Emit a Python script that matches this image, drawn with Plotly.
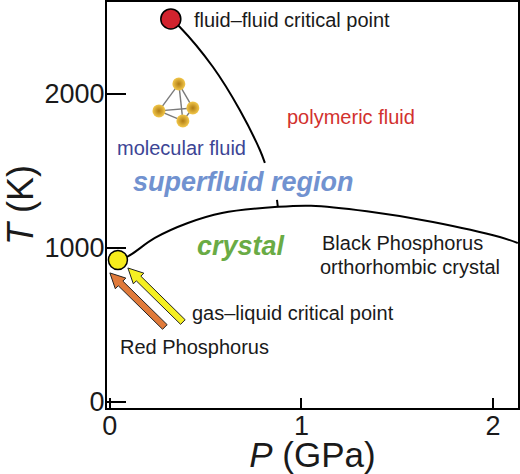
import math
import plotly.graph_objects as go

# axis setup (P in GPa, T in K)
x_range = [-0.015, 2.13]
y_range = [-39, 2597]
x_ticks = [0, 1, 2]
y_ticks = [0, 1000, 2000]

# melting line of black phosphorus (crystal boundary)
melt_P = [0.042, 0.094, 0.235, 0.407, 0.585, 0.877, 1.05, 1.341, 1.686, 2.035, 2.129]
melt_T = [922, 945, 1065, 1162, 1227, 1267, 1274, 1238, 1169, 1071, 1032]

# liquid-liquid transition line (broken where the label sits)
llt_P = [0.318, 0.365, 0.538, 0.678, 0.783, 0.809, None, 0.872, 0.877]
llt_T = [2487, 2435, 2175, 1896, 1636, 1552, None, 1312, 1265]

# critical points
ff_cp = (0.318, 2487)
gl_cp = (0.042, 922)

# P4 molecule sketch
mol_P = [0.360, 0.256, 0.433, 0.381]
mol_T = [2065, 1890, 1909, 1825]
mol_edges = [(0, 1), (0, 2), (0, 3), (1, 2), (1, 3), (2, 3)]

# arrows: (tail P, tail T, tip P, tip T)
arrow_red = (0.287, 487, 0.0, 838)
arrow_yel = (0.381, 519, 0.094, 870)

FONT = "Liberation Sans, Arial, sans-serif"
L_MARGIN, R_MARGIN, T_MARGIN, B_MARGIN = 107, 2, 2, 66
W, H = 520, 474
SX = (W - L_MARGIN - R_MARGIN) / (x_range[1] - x_range[0])  # px per GPa
SY = (H - T_MARGIN - B_MARGIN) / (y_range[1] - y_range[0])  # px per K


def block_arrow(a, shaft=6.5, head_w=15, head_l=15):
    # build an outlined block arrow in pixel space, return svg path in data coords
    u0, v0, u1, v1 = a[0] * SX, a[1] * SY, a[2] * SX, a[3] * SY
    dx, dy = u1 - u0, v1 - v0
    ln = math.hypot(dx, dy)
    ux, uy = dx / ln, dy / ln
    nx, ny = -uy, ux
    bx, by = u1 - ux * head_l, v1 - uy * head_l
    pts = [
        (u0 + nx * shaft / 2, v0 + ny * shaft / 2),
        (bx + nx * shaft / 2, by + ny * shaft / 2),
        (bx + nx * head_w / 2, by + ny * head_w / 2),
        (u1, v1),
        (bx - nx * head_w / 2, by - ny * head_w / 2),
        (bx - nx * shaft / 2, by - ny * shaft / 2),
        (u0 - nx * shaft / 2, v0 - ny * shaft / 2),
    ]
    return "M " + " L ".join(f"{u / SX:.4f},{v / SY:.2f}" for u, v in pts) + " Z"


fig = go.Figure()

fig.add_trace(go.Scatter(x=melt_P, y=melt_T, mode="lines", line_shape="spline",
                         line=dict(color="black", width=2), hoverinfo="skip"))
fig.add_trace(go.Scatter(x=llt_P, y=llt_T, mode="lines", line_shape="spline",
                         line=dict(color="black", width=2), hoverinfo="skip"))

# molecule edges then balls
for i, j in mol_edges:
    fig.add_trace(go.Scatter(x=[mol_P[i], mol_P[j]], y=[mol_T[i], mol_T[j]], mode="lines",
                             line=dict(color="#7a7a7a", width=1.4), hoverinfo="skip"))
fig.add_trace(go.Scatter(x=mol_P, y=mol_T, mode="markers",
                         marker=dict(size=13, color="#f3c84a",
                                     gradient=dict(type="radial", color="#b07c14"),
                                     line=dict(width=0)), hoverinfo="skip"))

fig.add_trace(go.Scatter(x=[ff_cp[0]], y=[ff_cp[1]], mode="markers",
                         marker=dict(size=20, color="#d2232e", line=dict(color="black", width=1.5)),
                         hoverinfo="skip"))
fig.add_trace(go.Scatter(x=[gl_cp[0]], y=[gl_cp[1]], mode="markers",
                         marker=dict(size=19, color="#f7ec1c", line=dict(color="black", width=1.5)),
                         hoverinfo="skip"))

fig.add_shape(type="path", path=block_arrow(arrow_red), fillcolor="#e07a3a",
              line=dict(color="#222", width=1), xref="x", yref="y")
fig.add_shape(type="path", path=block_arrow(arrow_yel), fillcolor="#f5ef22",
              line=dict(color="#222", width=1), xref="x", yref="y")

labels = [
    # text, P, T, anchor, color, size, bold-italic
    ("fluid\u2013fluid critical point", 0.428, 2481, "left", "#1a1a1a", 20, False),
    ("polymeric fluid", 1.258, 1851, "center", "#d2312e", 20, False),
    ("molecular fluid", 0.373, 1649, "center", "#3d4595", 20, False),
    ("superfluid region", 0.697, 1429, "center", "#7192d0", 27, True),
    ("crystal", 0.684, 1013, "center", "#6aab45", 27, True),
    ("Black Phosphorus", 1.529, 1032, "center", "#1a1a1a", 20, False),
    ("orthorhombic crystal", 1.566, 877, "center", "#1a1a1a", 20, False),
    ("gas\u2013liquid critical point", 0.418, 578, "left", "#1a1a1a", 20, False),
    ("Red Phosphorus", 0.042, 357, "left", "#1a1a1a", 20, False),
]
for txt, px, ty, anc, col, sz, bi in labels:
    fig.add_annotation(x=px, y=ty, text=f"<b><i>{txt}</i></b>" if bi else txt,
                       showarrow=False, xanchor=anc, yanchor="middle",
                       font=dict(family=FONT, size=sz, color=col))

fig.update_layout(
    width=W, height=H,
    margin=dict(l=L_MARGIN, r=R_MARGIN, t=T_MARGIN, b=B_MARGIN),
    plot_bgcolor="white", paper_bgcolor="white",
    showlegend=False,
    font=dict(family=FONT, color="#1a1a1a"),
)
fig.update_xaxes(range=x_range, tickvals=x_ticks, ticks="inside", ticklen=10, tickwidth=1.5,
                 tickcolor="black", showgrid=False, zeroline=False, automargin=False,
                 showline=True, linecolor="black", linewidth=2, mirror=True, ticklabelstandoff=-7,
                 tickfont=dict(size=27), title=dict(text="<i>P</i> (GPa)", font=dict(size=35), standoff=12))
fig.update_yaxes(range=y_range, tickvals=y_ticks, ticks="inside", ticklen=19, tickwidth=1.5,
                 tickcolor="black", showgrid=False, zeroline=False, automargin=False,
                 showline=True, linecolor="black", linewidth=2, mirror=True, ticklabelstandoff=-5,
                 tickfont=dict(size=27), title=dict(text="<i>T</i> (K)", font=dict(size=36), standoff=5))

# drop the default 8px page margin so the figure sits at the window corner
fig.write_html("out.html", config={"displayModeBar": False},
               post_script="document.body.style.margin='0px';")
